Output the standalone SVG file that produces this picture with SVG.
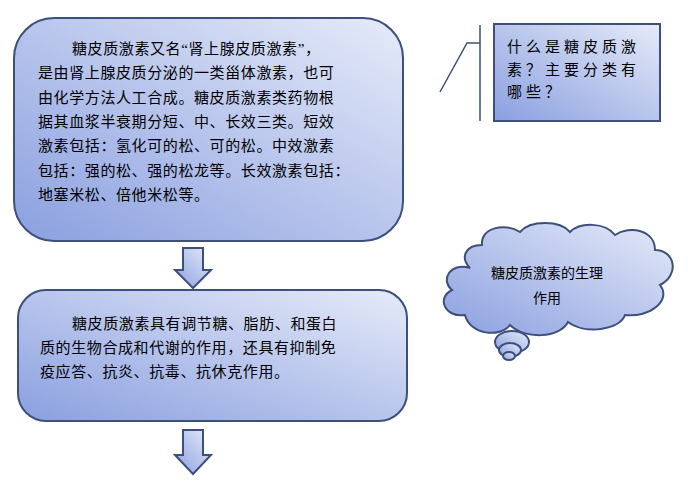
<svg xmlns="http://www.w3.org/2000/svg" width="700" height="481" viewBox="0 0 700 481">
<defs>
<linearGradient id="g" x1="0" y1="1" x2="1" y2="0">
<stop offset="0" stop-color="#8a9fdf"/><stop offset="1" stop-color="#e6ebf9"/>
</linearGradient>
<style>
.b{fill:url(#g);stroke:#3d4f7c;stroke-width:2}
.t{font-family:"Liberation Serif","Noto Sans CJK SC",serif;font-size:15px;fill:#000;letter-spacing:0.6px}
.c{letter-spacing:4px}
.s{font-family:"Noto Sans CJK SC",sans-serif;font-size:14px;fill:#000}
.l{fill:none;stroke:#3d4f7c;stroke-width:1.5}
</style>
</defs>
<rect width="700" height="481" fill="#fff"/>
<g id="box1">
<rect class="b" x="14" y="18" width="389" height="223" rx="40"/>
<text class="t"><tspan x="72" y="54">糖皮质激素又名“肾上腺皮质激素”，</tspan><tspan x="38" y="78">是由肾上腺皮质分泌的一类甾体激素，也可</tspan><tspan x="38" y="103">由化学方法人工合成。糖皮质激素类药物根</tspan><tspan x="38" y="127">据其血浆半衰期分短、中、长效三类。短效</tspan><tspan x="38" y="151">激素包括：氢化可的松、可的松。中效激素</tspan><tspan x="38" y="176">包括：强的松、强的松龙等。长效激素包括：</tspan><tspan x="38" y="200">地塞米松、倍他米松等。</tspan></text>
</g>
<g id="box2">
<rect class="b" x="18" y="290" width="389" height="131" rx="28"/>
<text class="t"><tspan x="72" y="329">糖皮质激素具有调节糖、脂肪、和蛋白</tspan><tspan x="40" y="353">质的生物合成和代谢的作用，还具有抑制免</tspan><tspan x="40" y="377">疫应答、抗炎、抗毒、抗休克作用。</tspan></text>
</g>
<g id="arrows">
<path class="b" d="M183 248H203V270H211L193 288L175 270H183Z"/>
<path class="b" d="M183 430H203V455H211L193 474L175 455H183Z"/>
</g>
<g id="callout">
<rect class="b" x="494" y="24" width="166" height="97" stroke-width="1.5"/>
<text class="t c"><tspan x="507" y="52">什么是糖皮质激</tspan><tspan x="507" y="75">素？主要分类有</tspan><tspan x="507" y="97">哪些？</tspan></text>
</g>
<g id="connectors">
<path class="l" d="M480 25V121M480 43H467L440 92"/>
</g>
<g id="cloud">
<path class="b" stroke-width="1.5" d="M470 268C450 262 440 280 452 290C436 298 445 318 465 315C470 335 500 338 510 325C525 340 560 338 568 322C585 335 620 330 625 315C650 318 672 300 660 285C680 275 675 250 655 250C655 230 630 225 615 235C605 222 580 222 570 232C560 220 530 220 520 232C505 222 480 228 482 245C465 245 460 258 470 268Z"/>
<ellipse class="b" stroke-width="1.5" cx="512" cy="342" rx="17" ry="11"/>
<ellipse class="b" stroke-width="1.5" cx="510" cy="350" rx="11" ry="7"/>
<ellipse class="b" stroke-width="1.5" cx="509" cy="356" rx="6" ry="4"/>
<text class="s" text-anchor="middle"><tspan x="547" y="278">糖皮质激素的生理</tspan><tspan x="547" y="303">作用</tspan></text>
</g>
</svg>
